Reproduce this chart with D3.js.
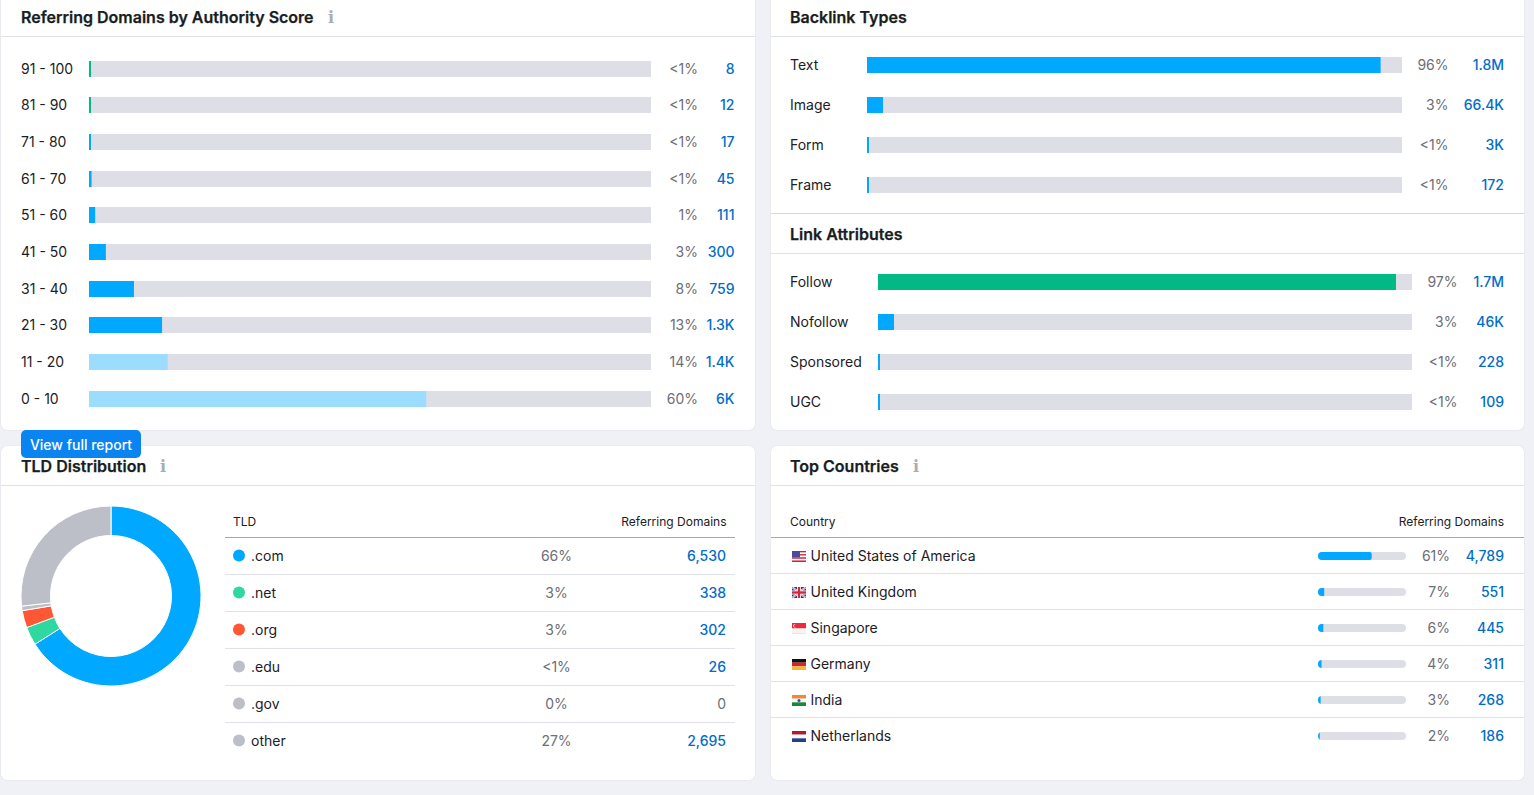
<!DOCTYPE html>
<html><head><meta charset="utf-8">
<script src="https://cdn.jsdelivr.net/npm/d3@7/dist/d3.min.js"></script>
<style>html,body{margin:0;padding:0;background:#f0f1f6;overflow:hidden}svg{display:block;font-family:Inter,sans-serif}</style>
</head><body><svg id="c" width="1534" height="795"></svg>
<script>
const asLabels=["91 - 100","81 - 90","71 - 80","61 - 70","51 - 60","41 - 50","31 - 40","21 - 30","11 - 20","0 - 10"];
const asShares=[0.08,0.12,0.17,0.45,1.1,3,8,13,14,60];
const asPctText=["<1%","<1%","<1%","<1%","1%","3%","8%","13%","14%","60%"];
const asCounts=["8","12","17","45","111","300","759","1.3K","1.4K","6K"];
const typeLabels=["Text","Image","Form","Frame"];
const typeShares=[96,3,0.2,0.1];
const typePctText=["96%","3%","<1%","<1%"];
const typeCounts=["1.8M","66.4K","3K","172"];
const attrLabels=["Follow","Nofollow","Sponsored","UGC"];
const attrShares=[97,3,0.2,0.1];
const attrPctText=["97%","3%","<1%","<1%"];
const attrCounts=["1.7M","46K","228","109"];
const tldLabels=[".com",".net",".org",".edu",".gov","other"];
const tldArcShares=[66,3.3,3.1,0.8,0,26.8];
const tldPctText=["66%","3%","3%","<1%","0%","27%"];
const tldCounts=["6,530","338","302","26","0","2,695"];
const countryLabels=["United States of America","United Kingdom","Singapore","Germany","India","Netherlands"];
const countryShares=[61,7,6,4,3,2];
const countryPctText=["61%","7%","6%","4%","3%","2%"];
const countryCounts=["4,789","551","445","311","268","186"];

const BLUE="#00a9ff",GREEN="#00b984",LIGHT="#9bdcff",TRACK="#dedee7",INK="#1c2026",GREY="#6c6e79",LINK="#006dca",RULE="#e0e1e9";
const svg=d3.select("#c");
function T(g,x,y,s,o={}){return g.append("text").attr("x",x).attr("y",y).text(s)
  .attr("font-size",o.size||14).attr("font-weight",o.weight||400).attr("fill",o.fill||INK)
  .attr("text-anchor",o.anchor||"start");}
function hline(x1,x2,y,c){svg.append("line").attr("x1",x1).attr("x2",x2).attr("y1",y).attr("y2",y).attr("stroke",c||RULE).attr("stroke-width",1);}
function card(x,y,w,h){
  svg.append("rect").attr("x",x-.5).attr("y",y-.5).attr("width",w+1).attr("height",h+1).attr("rx",6).attr("fill","#e3e4ec");
  svg.append("rect").attr("x",x).attr("y",y).attr("width",w).attr("height",h).attr("rx",6).attr("fill","#fff");
}
function title(s,x,y,ix){
  T(svg,x,y,s,{size:16,weight:600,fill:"#181d22"}).attr("stroke","#181d22").attr("stroke-width",.25).attr("textLength",null);
  if(ix) svg.append("text").attr("x",ix).attr("y",y-.5).text("i").attr("font-family","DejaVu Serif").attr("font-size",16).attr("font-weight",700).attr("fill","#a9abb6").attr("text-anchor","middle");
}
function barRows(o){
  const y=d3.scalePoint().domain(o.labels).range(o.yRange);
  const x=d3.scaleLinear().domain([0,100]).range([o.x0,o.x1]);
  o.labels.forEach((l,i)=>{
    const cy=Math.floor(y(l));
    T(svg,o.labelX,cy+5,l,{});
    svg.append("rect").attr("x",o.x0).attr("y",cy-8).attr("width",o.x1-o.x0).attr("height",16).attr("fill",TRACK);
    svg.append("rect").attr("x",o.x0).attr("y",cy-8).attr("width",Math.max(2,x(o.shares[i])-o.x0)).attr("height",16).attr("fill",o.color(i));
    T(svg,o.pctX,cy+5,o.pct[i],{fill:GREY,anchor:"end"});
    T(svg,o.valX,cy+5,o.counts[i],{fill:LINK,anchor:"end",weight:500});
  });
}
card(1,-8,754,438);card(771,-8,753,438);card(1,446,754,334);card(771,446,753,334);

title("Referring Domains by Authority Score",21,23,331);
hline(1,755,36.5);
barRows({labels:asLabels,shares:asShares,pct:asPctText,counts:asCounts,yRange:[69,399],x0:89,x1:651,labelX:21,pctX:698,valX:734.5,
  color:i=>i<2?GREEN:(i>=8?LIGHT:BLUE)});

title("Backlink Types",790,23);
hline(771,1524,36.5);
barRows({labels:typeLabels,shares:typeShares,pct:typePctText,counts:typeCounts,yRange:[65,185],x0:867,x1:1402,labelX:790,pctX:1448.5,valX:1504,color:()=>BLUE});
hline(771,1524,213.5,"#d6d7e0");
title("Link Attributes",790,240);
hline(771,1524,253.5);
barRows({labels:attrLabels,shares:attrShares,pct:attrPctText,counts:attrCounts,yRange:[282,402],x0:878,x1:1412,labelX:790,pctX:1457.5,valX:1504,color:i=>i===0?GREEN:BLUE});

/* TLD */
title("TLD Distribution",21,472,163);
hline(1,755,485.5);
const tldColor=d3.scaleOrdinal().domain(tldLabels).range([BLUE,"#2fd8a0","#ff5733","#bcbfc8","#bcbfc8","#bcbfc8"]);
const pie=d3.pie().sort(null).value(d=>d.v);
const arc=d3.arc().innerRadius(60.5).outerRadius(90);
const donut=svg.append("g").attr("transform","translate(111,596)");
donut.selectAll("path").data(pie(tldLabels.map((l,i)=>({l,v:tldArcShares[i]}))).filter(d=>d.data.v>0)).join("path")
  .attr("d",arc).attr("fill",d=>tldColor(d.data.l)).attr("stroke","#fff").attr("stroke-width",1);

T(svg,233,526,"TLD",{size:12});
T(svg,726.5,526,"Referring Domains",{size:12,anchor:"end"});
hline(225,735,537.5,"#a4a6b0");
const tldY=d3.scalePoint().domain(tldLabels).range([556,741]);
tldLabels.forEach((l,i)=>{
  const cy=tldY(l);
  svg.append("circle").attr("cx",239).attr("cy",cy-.5).attr("r",6).attr("fill",tldColor(l));
  T(svg,251,cy+5,l,{});
  T(svg,556.5,cy+5,tldPctText[i],{fill:GREY,anchor:"middle"});
  T(svg,726,cy+5,tldCounts[i],{fill:tldCounts[i]==="0"?GREY:LINK,anchor:"end",weight:tldCounts[i]==="0"?400:500});
  if(i<5) hline(225,735,cy+18.5);
});

/* Countries */
title("Top Countries",790,472,916);
hline(771,1524,485.5);
T(svg,790,526,"Country",{size:12});
T(svg,1504,526,"Referring Domains",{size:12,anchor:"end"});
hline(771,1524,537.5,"#a4a6b0");
const cY=d3.scalePoint().domain(countryLabels).range([556,736]);
const cX=d3.scaleLinear().domain([0,100]).range([0,88]);
const clipDefs=svg.append("defs");
function flag(i,cy){
  const g=svg.append("g").attr("transform",`translate(792,${cy-5})`);
  const R=(x,y,w,h,f)=>g.append("rect").attr("x",x).attr("y",y).attr("width",w).attr("height",h).attr("fill",f);
  const bands=cs=>cs.forEach((c,k)=>R(0,k*11/cs.length,14,11/cs.length,c));
  if(i===0){
    for(let k=0;k<7;k++)R(0,k*11/7,14,11/7,k%2?"#fff":"#c5283d");
    R(0,0,8,6.3,"#4a4a9c");
  }else if(i===1){
    R(0,0,14,11,"#2b3a80");
    g.append("path").attr("d","M0 0L14 11M14 0L0 11").attr("stroke","#fff").attr("stroke-width",2);
    g.append("path").attr("d","M0 0L14 11M14 0L0 11").attr("stroke","#d0283c").attr("stroke-width",.7);
    R(5,0,4,11,"#fff");R(0,3.5,14,4,"#fff");R(5.8,0,2.4,11,"#d0283c");R(0,4.3,14,2.4,"#d0283c");
  }else if(i===2){
    bands(["#f0283c","#f4f4f4"]);
    g.append("circle").attr("cx",3).attr("cy",2.7).attr("r",1.8).attr("fill","#fff");
    g.append("circle").attr("cx",3.7).attr("cy",2.7).attr("r",1.7).attr("fill","#f0283c");
    R(0,10.5,14,.5,"#dcdce2");
  }else if(i===3){
    bands(["#111","#d8232a","#f5b82e"]);
  }else if(i===4){
    bands(["#f08a32","#f8f8f8","#128a3c"]);
    g.append("circle").attr("cx",7).attr("cy",5.5).attr("r",1.5).attr("fill","#3b4a9a");
  }else{
    bands(["#a8202f","#f8f8f8","#23408f"]);
  }
}
countryLabels.forEach((l,i)=>{
  const cy=cY(l);
  flag(i,cy);
  T(svg,810.5,cy+5,l,{});
  const id="cb"+i;
  clipDefs.append("clipPath").attr("id",id).append("rect").attr("x",1318).attr("y",cy-4).attr("width",88).attr("height",8).attr("rx",4);
  svg.append("rect").attr("x",1318).attr("y",cy-4).attr("width",88).attr("height",8).attr("rx",4).attr("fill",TRACK);
  svg.append("rect").attr("x",1318).attr("y",cy-4).attr("width",cX(countryShares[i])).attr("height",8).attr("rx",i===0?2:0).attr("fill",BLUE).attr("clip-path",`url(#${id})`);
  T(svg,1450,cy+5,countryPctText[i],{fill:GREY,anchor:"end"});
  T(svg,1504,cy+5,countryCounts[i],{fill:LINK,anchor:"end",weight:500});
  if(i<5) hline(771,1524,cy+17.5);
});

/* Button */
svg.append("rect").attr("x",21).attr("y",430).attr("width",120).attr("height",28).attr("rx",5).attr("fill","#0a84f0");
T(svg,81,450,"View full report",{fill:"#fff",anchor:"middle",weight:500});
</script></body></html>
